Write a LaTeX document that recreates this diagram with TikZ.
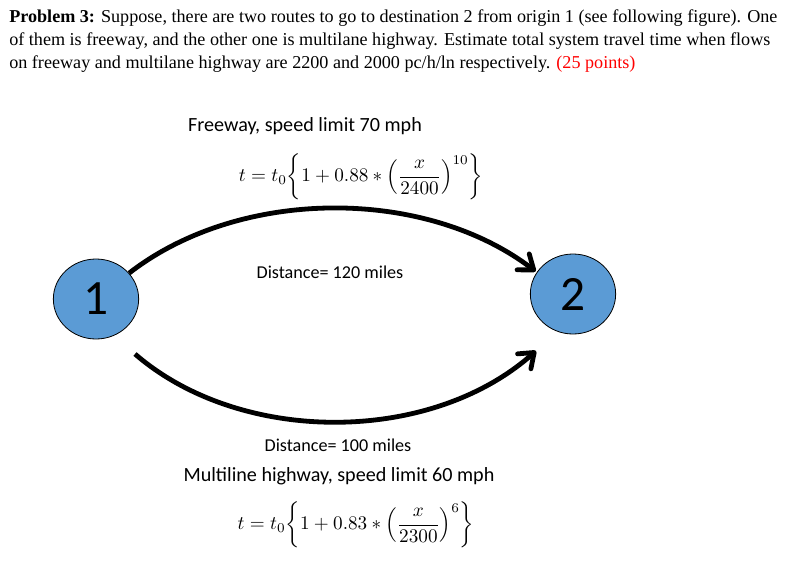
\documentclass[tikz,border=0pt]{standalone}
\usepackage{amsmath}
\usepackage{fontspec}
\setmainfont{Liberation Serif}
\newfontfamily\labelfont{Carlito}
\usetikzlibrary{arrows.meta,shapes.geometric}
\definecolor{nodeblue}{HTML}{5B9BD5}
\begin{document}
\begin{tikzpicture}[x=.75pt,y=-.75pt]

        \useasboundingbox (0,0) rectangle (788,571);

        \node[anchor=north west,inner sep=0pt,align=left,font=\fontsize{13.6}{17.25}\selectfont] (problem) at (9,9.5)
          {\textbf{Problem 3:} Suppose, there are two routes to go to destination 2 from origin 1 (see following figure). One\\
           of them is freeway, and the other one is multilane highway. Estimate total system travel time when flows\\
           on freeway and multilane highway are 2200 and 2000 pc/h/ln respectively. \textcolor{red}{(25 points)}};

        \begin{scope}[every node/.style={ellipse,draw=black,fill=nodeblue,line width=.6pt,inner sep=0pt,minimum width=64pt,minimum height=60pt,font=\labelfont\fontsize{37}{37}\selectfont}]
          \node (1) at (96,299) {1};
          \node (2) at (573,294) {2};
        \end{scope}

        \begin{scope}[every node/.style={font=\labelfont\fontsize{15.1}{15.1}\selectfont,inner sep=0pt}]
          \node (freeway) at (305,126) {Freeway, speed limit 70 mph};
          \node (multiline) at (339,476) {Multiline highway, speed limit 60 mph};
        \end{scope}

        \begin{scope}[every node/.style={font=\labelfont\fontsize{13.6}{13.6}\selectfont,inner sep=0pt}]
          \node (far) at (330,272) {Distance= 120 miles};
          \node (near) at (338,445) {Distance= 100 miles};
        \end{scope}

        \begin{scope}[every node/.style={scale=1.44,transform shape,inner sep=0pt}]
          \node (timefree) at (361,177) {$t=t_0\bigg\{1+0.88\ast\Big(\dfrac{x}{2400}\Big)^{10}\bigg\}$};
          \node (timemulti) at (356,525) {$t=t_0\bigg\{1+0.83\ast\Big(\dfrac{x}{2300}\Big)^{6}\bigg\}$};
        \end{scope}

        \coordinate (lowstart) at (135,354);
        \coordinate (lowend) at (537,350);

        \begin{scope}[every path/.style={draw,line width=3.6pt,shorten >=1pt,-{Straight Barb[length=10pt,width=15pt,round]}}]
          \path (1.38) .. controls (240,187) and (425,187) .. (2.149);
          \path (lowstart) .. controls (240,445) and (430,445) .. (lowend);
        \end{scope}

\end{tikzpicture}
\end{document}
